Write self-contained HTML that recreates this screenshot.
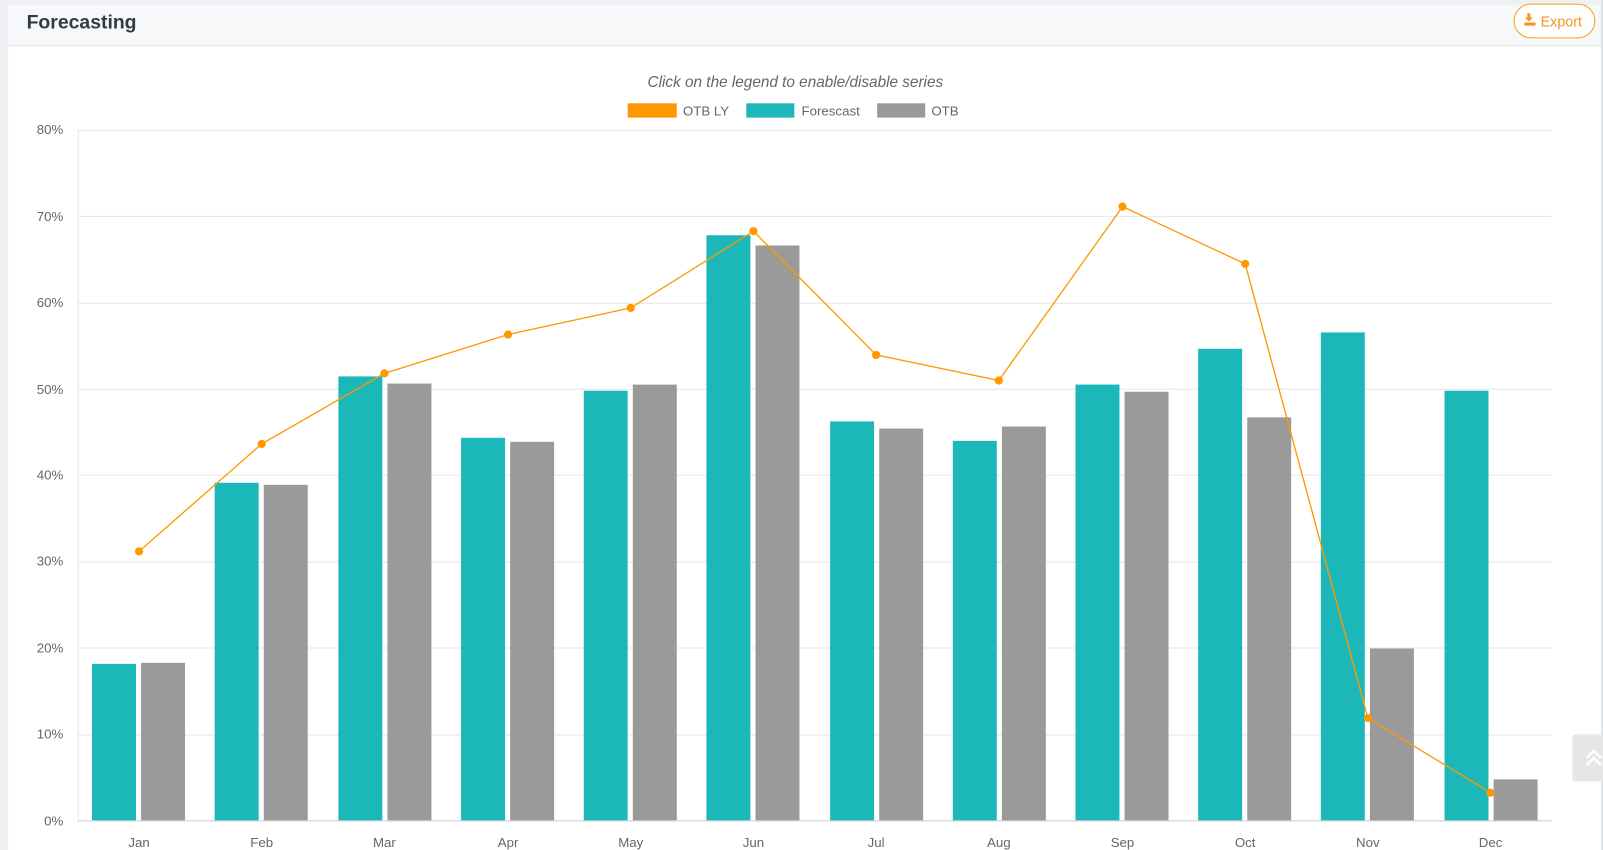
<!DOCTYPE html>
<html><head><meta charset="utf-8"><style>
html,body{margin:0;padding:0;background:#fff;}
svg{display:block;}
text{font-family:"Liberation Sans",sans-serif;}
</style></head><body>
<svg width="1603" height="850" viewBox="0 0 1568 831" preserveAspectRatio="none" xmlns="http://www.w3.org/2000/svg">
<rect x="0" y="0" width="1568" height="831" fill="#eef0f4"/>
<rect x="8" y="5" width="1558" height="826" fill="#ffffff"/>
<rect x="8" y="5" width="1558" height="39" fill="#f7f8fa"/>
<line x1="8" y1="44.5" x2="1566" y2="44.5" stroke="#e3e6ea"/>
<text x="26" y="28" font-size="19" font-weight="bold" fill="#343a40">Forecasting</text>
<rect x="1481" y="4" width="79" height="33" rx="16.5" fill="#fff" stroke="#f7a21b" stroke-width="1"/>
<path d="M1494 13h3v4h2.5l-4 4-4-4h2.5z M1491 22h11v3h-11z" fill="#f7931e"/>
<text x="1507" y="26" font-size="14" fill="#f7931e">Export</text>
<text x="778" y="85" font-size="15" font-style="italic" fill="#666" text-anchor="middle">Click on the legend to enable/disable series</text>
<rect x="614" y="101" width="48" height="14" fill="#ff9800"/>
<text x="668" y="113" font-size="13" fill="#666">OTB LY</text>
<rect x="730" y="101" width="47" height="14" fill="#1cb8b9"/>
<text x="784" y="113" font-size="13" fill="#666">Forescast</text>
<rect x="858" y="101" width="47" height="14" fill="#9a9a9a"/>
<text x="911" y="113" font-size="13" fill="#666">OTB</text>
<g stroke="#e6e6e6" stroke-width="1">
<line x1="76" y1="127.5" x2="1518" y2="127.5"/>
<line x1="76" y1="211.5" x2="1518" y2="211.5"/>
<line x1="76" y1="296.5" x2="1518" y2="296.5"/>
<line x1="76" y1="380.5" x2="1518" y2="380.5"/>
<line x1="76" y1="464.5" x2="1518" y2="464.5"/>
<line x1="76" y1="549.5" x2="1518" y2="549.5"/>
<line x1="76" y1="633.5" x2="1518" y2="633.5"/>
<line x1="76" y1="718.5" x2="1518" y2="718.5"/>
<line x1="76.5" y1="127" x2="76.5" y2="802"/>
</g>
<line x1="76" y1="802.5" x2="1518" y2="802.5" stroke="#ccc"/>
<g font-size="13" fill="#666" text-anchor="end">
<text x="62" y="131">80%</text><text x="62" y="216">70%</text><text x="62" y="300">60%</text><text x="62" y="385">50%</text>
<text x="62" y="469">40%</text><text x="62" y="553">30%</text><text x="62" y="638">20%</text><text x="62" y="722">10%</text><text x="62" y="807">0%</text>
</g>
<g fill="#1cb8b9">
<rect x="90" y="649" width="43" height="153"/>
<rect x="210" y="472" width="43" height="330"/>
<rect x="331" y="368" width="43" height="434"/>
<rect x="451" y="428" width="43" height="374"/>
<rect x="571" y="382" width="43" height="420"/>
<rect x="691" y="230" width="43" height="572"/>
<rect x="812" y="412" width="43" height="390"/>
<rect x="932" y="431" width="43" height="371"/>
<rect x="1052" y="376" width="43" height="426"/>
<rect x="1172" y="341" width="43" height="461"/>
<rect x="1292" y="325" width="43" height="477"/>
<rect x="1413" y="382" width="43" height="420"/>
</g>
<g fill="#9a9a9a">
<rect x="138" y="648" width="43" height="154"/>
<rect x="258" y="474" width="43" height="328"/>
<rect x="379" y="375" width="43" height="427"/>
<rect x="499" y="432" width="43" height="370"/>
<rect x="619" y="376" width="43" height="426"/>
<rect x="739" y="240" width="43" height="562"/>
<rect x="860" y="419" width="43" height="383"/>
<rect x="980" y="417" width="43" height="385"/>
<rect x="1100" y="383" width="43" height="419"/>
<rect x="1220" y="408" width="43" height="394"/>
<rect x="1340" y="634" width="43" height="168"/>
<rect x="1461" y="762" width="43" height="40"/>
</g>
<polyline fill="none" stroke="#ff9800" stroke-width="1.3" points="136,539 256,434 376,365 497,327 617,301 737,226 857,347 977,372 1098,202 1218,258 1338,702 1458,775"/>
<g fill="#ff9800">
<circle cx="136" cy="539" r="4"/><circle cx="256" cy="434" r="4"/><circle cx="376" cy="365" r="4"/><circle cx="497" cy="327" r="4"/>
<circle cx="617" cy="301" r="4"/><circle cx="737" cy="226" r="4"/><circle cx="857" cy="347" r="4"/><circle cx="977" cy="372" r="4"/>
<circle cx="1098" cy="202" r="4"/><circle cx="1218" cy="258" r="4"/><circle cx="1338" cy="702" r="4"/><circle cx="1458" cy="775" r="4"/>
</g>
<g font-size="13" fill="#666" text-anchor="middle">
<text x="136" y="828">Jan</text><text x="256" y="828">Feb</text><text x="376" y="828">Mar</text><text x="497" y="828">Apr</text>
<text x="617" y="828">May</text><text x="737" y="828">Jun</text><text x="857" y="828">Jul</text><text x="977" y="828">Aug</text>
<text x="1098" y="828">Sep</text><text x="1218" y="828">Oct</text><text x="1338" y="828">Nov</text><text x="1458" y="828">Dec</text>
</g>
<rect x="1566" y="0" width="2" height="831" fill="#dfe3e8"/>
<rect x="1538" y="718" width="30" height="46" rx="3" fill="#e6e6e6"/>
<path d="M1552 741l7-7 7 7 M1552 748l7-7 7 7" fill="none" stroke="#fff" stroke-width="2.5"/>
</svg>
</body></html>
